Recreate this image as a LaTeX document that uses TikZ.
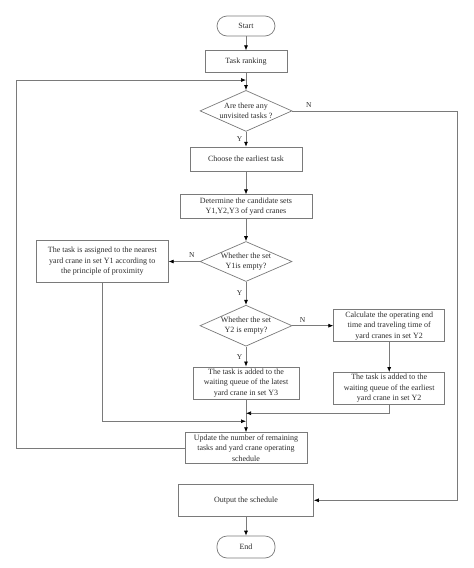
\documentclass[tikz,border=0pt]{standalone}
\usepackage{fontspec}
\setmainfont{Liberation Serif}
\usetikzlibrary{shapes.geometric, arrows.meta, positioning}
\definecolor{linegray}{HTML}{7A7A7A}
\definecolor{txtgray}{HTML}{2B2B2B}
\tikzset{
  box/.style={rectangle, draw=linegray, line width=0.7pt, text=txtgray, align=center, font=\fontsize{8}{10.5}\selectfont, inner sep=1pt},
  terminal/.style={rectangle, draw=linegray, line width=0.7pt, text=txtgray, rounded corners=10pt, minimum width=58pt, minimum height=20pt, font=\fontsize{8}{10.5}\selectfont, inner sep=1pt},
  decision/.style={diamond, draw=linegray, line width=0.7pt, text=txtgray, align=center, font=\fontsize{8}{10.5}\selectfont, inner sep=-2pt, aspect=2.25, minimum width=92pt, minimum height=41pt},
  arrow/.style={-{Latex[length=5pt, width=4pt, color=black]}, draw=linegray, line width=0.7pt},
  lbl/.style={font=\fontsize{7.5}{9}\selectfont, text=txtgray},
}

\begin{document}
\begin{tikzpicture}[node distance=20pt]
  \useasboundingbox (0,0) rectangle (474pt,-568pt);
  \node[terminal] (start) at (246pt,-26pt) {Start};
  \node[box, below=14pt of start, minimum width=82pt, minimum height=22pt] (rank) {Task ranking};
  \node[decision, below=17pt of rank] (visit) {Are there any\\unvisited tasks ?};
  \node[box, below=15pt of visit, minimum width=112pt, minimum height=24pt] (choose) {Choose the earliest task};
  \node[box, below=23pt of choose, minimum width=132pt, minimum height=24pt] (cands) {Determine the candidate sets\\Y1,Y2,Y3 of yard cranes};
  \node[decision, below=22pt of cands, minimum height=40pt] (setA) {Whether the set\\Y1is empty?};
  \node[decision, below=23pt of setA] (setB) {Whether the set\\Y2 is empty?};
  \node[box, below=20pt of setB, minimum width=106pt, minimum height=32pt] (latest) {The task is added to the\\waiting queue of the latest\\yard crane in set Y3};
  \node[box, below=33pt of latest, minimum width=122pt, minimum height=31pt] (update) {Update the number of remaining\\tasks and yard crane operating\\schedule};
  \node[box, below=20pt of update, minimum width=135pt, minimum height=32pt] (output) {Output the schedule};
  \node[terminal, below=19pt of output, minimum height=22pt] (finish) {End};
  \node[box, left=31pt of setA, minimum width=132pt, minimum height=42pt] (nearest) {The task is assigned to the nearest\\yard crane in set Y1 according to\\the principle of proximity};
  \node[box, right=41pt of setB, minimum width=111pt, minimum height=32pt] (calc) {Calculate the operating end\\time and traveling time of\\yard cranes in set Y2};
  \node[box, below=30pt of calc, minimum width=111pt, minimum height=32pt] (earliest) {The task is added to the\\waiting queue of the earliest\\yard crane in set Y2};
  \coordinate[above=10pt of visit.north] (jointop);
  \coordinate[below=14pt of latest.south] (joinright);
  \coordinate[below=22pt of latest.south] (joinleft);
  % main column
  \draw[arrow] (start) -- (rank);
  \draw[arrow] (rank) -- (visit);
  \draw[arrow] (visit) -- node[lbl, left]{Y} (choose);
  \draw[arrow] (choose) -- (cands);
  \draw[arrow] (cands) -- (setA);
  \draw[arrow] (setA) -- node[lbl, left]{Y} (setB);
  \draw[arrow] (setB) -- node[lbl, left]{Y} (latest);
  \draw[arrow] (latest) -- (update);
  \draw[arrow] (output) -- (finish);
  % side branches
  \draw[arrow] (setA.west) -- node[lbl, above, pos=0.25]{N} (nearest.east);
  \draw[arrow] (setB.east) -- node[lbl, above, pos=0.25]{N} (calc.west);
  \draw[arrow] (calc) -- (earliest);
  \draw[arrow] (earliest.south) |- (joinright);
  \draw[arrow] (nearest.south) |- (joinleft);
  % loops
  \draw[arrow] (update.west) -- ++(-168pt,0) |- (jointop);
  \draw[arrow] (visit.east) -- node[lbl, above, pos=0.1]{N} ++(165pt,0) |- (output.east);
\end{tikzpicture}
\end{document}
